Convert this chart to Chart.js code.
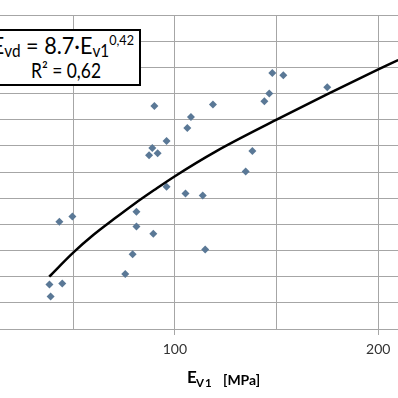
<!DOCTYPE html>
<html>
<head>
<meta charset="utf-8">
<script src="https://cdn.jsdelivr.net/npm/chart.js@4"></script>
<style>
  html, body { margin: 0; padding: 0; background: #fff; }
  #wrap { position: relative; width: 398px; height: 398px; overflow: hidden; background: #fff; }
  #wrap canvas { position: absolute; left: 0; top: 0; }
  .t { position: absolute; white-space: nowrap; font-family: Lato, "Open Sans", sans-serif; color: #000; }
  #box { position: absolute; left: -60px; top: 29px; width: 201px; height: 57px; border: 2px solid #000; background: #fff; box-sizing: border-box; }
  #eq1 { right: 264px; top: 32.5px; font-size: 24px; line-height: 24px; transform: scaleX(0.9); transform-origin: right center; }
  #eq1 .sb { position: relative; top: 3.5px; font-size: 17px; }
  #eq1 .sp { position: relative; top: -8.5px; font-size: 14px; }
  #eq2 { left: 31px; top: 60px; font-size: 20.5px; line-height: 20.5px; transform: scaleX(0.85); transform-origin: left center; }
  .xt { font-weight: bold; }
</style>
</head>
<body>
<div id="wrap">
  <canvas id="c"></canvas>
  <div id="box"></div>
  <div class="t" id="eq1">E<span class="sb">vd</span> = 8.7·E<span class="sb">v1</span><span class="sp">0,42</span></div>
  <div class="t" id="eq2">R² = 0,62</div>
  <div class="t xt" style="left:187px; top:368px; font-size:17px; line-height:17px;">E</div>
  <div class="t xt" style="left:196px; top:376.8px; font-size:11.5px; line-height:11.5px; letter-spacing:1px;">V1</div>
  <div class="t xt" style="left:223px; top:372.5px; font-size:14px; line-height:14px;">[MPa]</div>
</div>
<script>
// Measured points: Ev1 [MPa]
const ev1 = [38.3, 38.9, 44.6, 43.2, 49.6, 75.6, 79.2, 81.1, 81.1, 89.4,
             87.3, 88.9, 91.5, 89.9, 95.9, 95.9, 105.2, 106.1, 107.9, 113.7,
             114.9, 118.7, 134.8, 138.1, 144.0, 146.4, 147.9, 153.3, 174.9];
// Measured points: Evd [MPa]
const evd = [38.5, 36.2, 38.7, 50.5, 51.5, 40.5, 44.3, 49.6, 52.4, 48.2,
             63.2, 64.6, 63.6, 72.6, 65.9, 57.2, 55.9, 68.4, 70.5, 55.5,
             45.2, 72.9, 60.1, 64.0, 73.5, 75.0, 78.9, 78.5, 76.2];
// Trend line
const trendX = [38.2, 50, 60, 70, 80, 90, 100, 120, 150, 175, 200, 209.8];
const trendY = [40.0, 44.6, 48.0, 51.0, 53.9, 56.6, 59.2, 63.9, 70.0, 74.9, 79.6, 81.4];
// Axis ticks
const xTicks = [50, 100, 150, 200];
const xLabelled = [100, 200];

const grid = '#a6a6a6';
new Chart(document.getElementById('c'), {
  type: 'scatter',
  data: {
    datasets: [
      {
        label: 'Evd',
        data: ev1.map((x, i) => ({ x: x, y: evd[i] })),
        pointStyle: 'rectRot',
        pointRadius: 4,
        backgroundColor: '#5a7896',
        borderColor: '#5a7896',
        borderWidth: 0,
        order: 2
      },
      {
        type: 'line',
        label: 'trend',
        data: trendX.map((x, i) => ({ x: x, y: trendY[i] })),
        borderColor: '#000',
        borderWidth: 2.5,
        pointRadius: 0,
        cubicInterpolationMode: 'monotone',
        fill: false,
        order: 1
      }
    ]
  },
  options: {
    responsive: true,
    maintainAspectRatio: false,
    animation: false,
    layout: { autoPadding: false, padding: { top: 15, left: 0, right: 0, bottom: 0 } },
    plugins: { legend: { display: false }, tooltip: { enabled: false } },
    scales: {
      x: {
        type: 'linear',
        min: 14,
        max: 209.7,
        afterBuildTicks: (s) => { s.ticks = xTicks.map(v => ({ value: v })); },
        afterFit: (s) => { s.height = 69; s.paddingLeft = 0; s.paddingRight = 0; },
        grid: {
          color: grid,
          lineWidth: 1,
          tickLength: 6,
          tickColor: (ctx) => (ctx.tick && xLabelled.includes(ctx.tick.value)) ? grid : 'rgba(0,0,0,0)'
        },
        border: { color: grid, width: 1 },
        ticks: {
          maxRotation: 0,
          autoSkip: false,
          padding: 6,
          color: '#333',
          font: { family: 'Lato', size: 14 },
          callback: (v) => xLabelled.includes(v) ? String(v) : ''
        }
      },
      y: {
        type: 'linear',
        min: 30,
        max: 90,
        afterFit: (s) => { s.width = 0; },
        ticks: { display: false, stepSize: 5 },
        grid: { color: grid, lineWidth: 1, drawTicks: false },
        border: { display: false }
      }
    }
  }
});
</script>
</body>
</html>
